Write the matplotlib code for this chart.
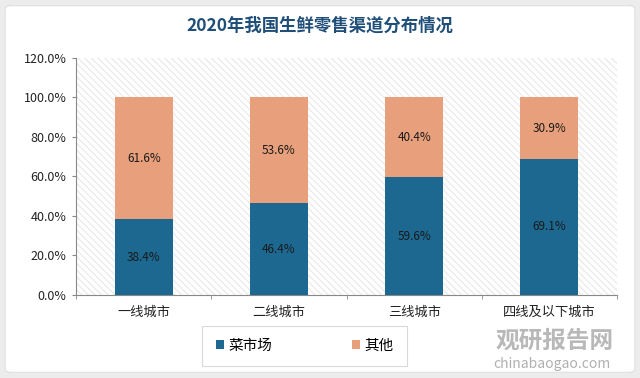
import matplotlib
matplotlib.use("Agg")
import matplotlib.pyplot as plt
import numpy as np
from matplotlib.patches import FancyBboxPatch

plt.rcParams['font.family'] = ['Noto Sans CJK SC', 'DejaVu Sans']
plt.rcParams['hatch.color'] = '#e8e8e8'
plt.rcParams['hatch.linewidth'] = 0.8

categories = ['一线城市', '二线城市', '三线城市', '四线及以下城市']
market = [38.4, 46.4, 59.6, 69.1]
other = [61.6, 53.6, 40.4, 30.9]
series_names = ['菜市场', '其他']
yticks = [0, 20, 40, 60, 80, 100, 120]

blue = '#1c6890'
orange = '#e8a07c'

fig = plt.figure(figsize=(6.4, 3.78), dpi=100)
fig.patch.set_facecolor('#ececec')
panel = FancyBboxPatch((0.008, 0.015), 0.984, 0.97, boxstyle="round,pad=0,rounding_size=0.01",
                       transform=fig.transFigure, facecolor='white', edgecolor='#e0e0e0', lw=0.8, zorder=-10)
fig.patches.append(panel)

ax = fig.add_axes([0.119, 0.2196, 0.845, 0.627])
ax.patch.set_facecolor('white')
ax.patch.set_hatch('\\\\\\\\\\')
ax.patch.set_edgecolor('#e8e8e8')

x = np.arange(len(categories))
w = 0.43
b1 = ax.bar(x, market, w, color=blue, zorder=3)
b2 = ax.bar(x, other, w, bottom=market, color=orange, zorder=3)

for i in range(len(categories)):
    ax.text(x[i], market[i] / 2, f'{market[i]:.1f}%', ha='center', va='center', fontsize=8.5, color='#1a1a1a', zorder=4)
    ax.text(x[i], market[i] + other[i] / 2, f'{other[i]:.1f}%', ha='center', va='center', fontsize=8.5, color='#1a1a1a', zorder=4)

ax.set_xlim(-0.5, len(categories) - 0.5)
ax.set_ylim(0, 120)
ax.set_yticks(yticks)
ax.set_yticklabels([f'{v:.1f}%' for v in yticks], fontsize=9, color='#222222')
ax.set_xticks(x)
ax.set_xticklabels(categories, fontsize=9.5, color='#222222')
ax.set_xticks(np.arange(len(categories) + 1) - 0.5, minor=True)
ax.tick_params(axis='x', which='major', length=0, pad=8)
ax.tick_params(axis='x', which='minor', length=3, color='#888888')
ax.tick_params(axis='y', length=3, color='#888888', pad=4)
for s in ['top', 'right']:
    ax.spines[s].set_visible(False)
ax.spines['left'].set_color('#888888')
ax.spines['bottom'].set_color('#888888')

fig.text(0.5, 0.933, '2020年我国生鲜零售渠道分布情况', ha='center', va='center',
         fontsize=12.5, fontweight='bold', color='#1f4e79')

leg = fig.legend([b1, b2], series_names, loc='center', bbox_to_anchor=(0.476, 0.085),
                 ncol=2, frameon=True, fontsize=10.5, handlelength=0.55, handleheight=0.55,
                 columnspacing=5.5, borderpad=0.5, handletextpad=0.3)
leg.get_frame().set_edgecolor('#d0d0d0')
leg.get_frame().set_linewidth(0.8)
leg.get_frame().set_boxstyle('square,pad=0.4')

fig.text(0.867, 0.1, '观研报告网', ha='center', va='center', fontsize=17, fontweight='bold', color='#b8b8b8')
fig.text(0.862, 0.036, 'chinabaogao.com', ha='center', va='center', fontsize=10, color='#b0b0b0')

fig.savefig('out.png', dpi=100, facecolor=fig.get_facecolor())
